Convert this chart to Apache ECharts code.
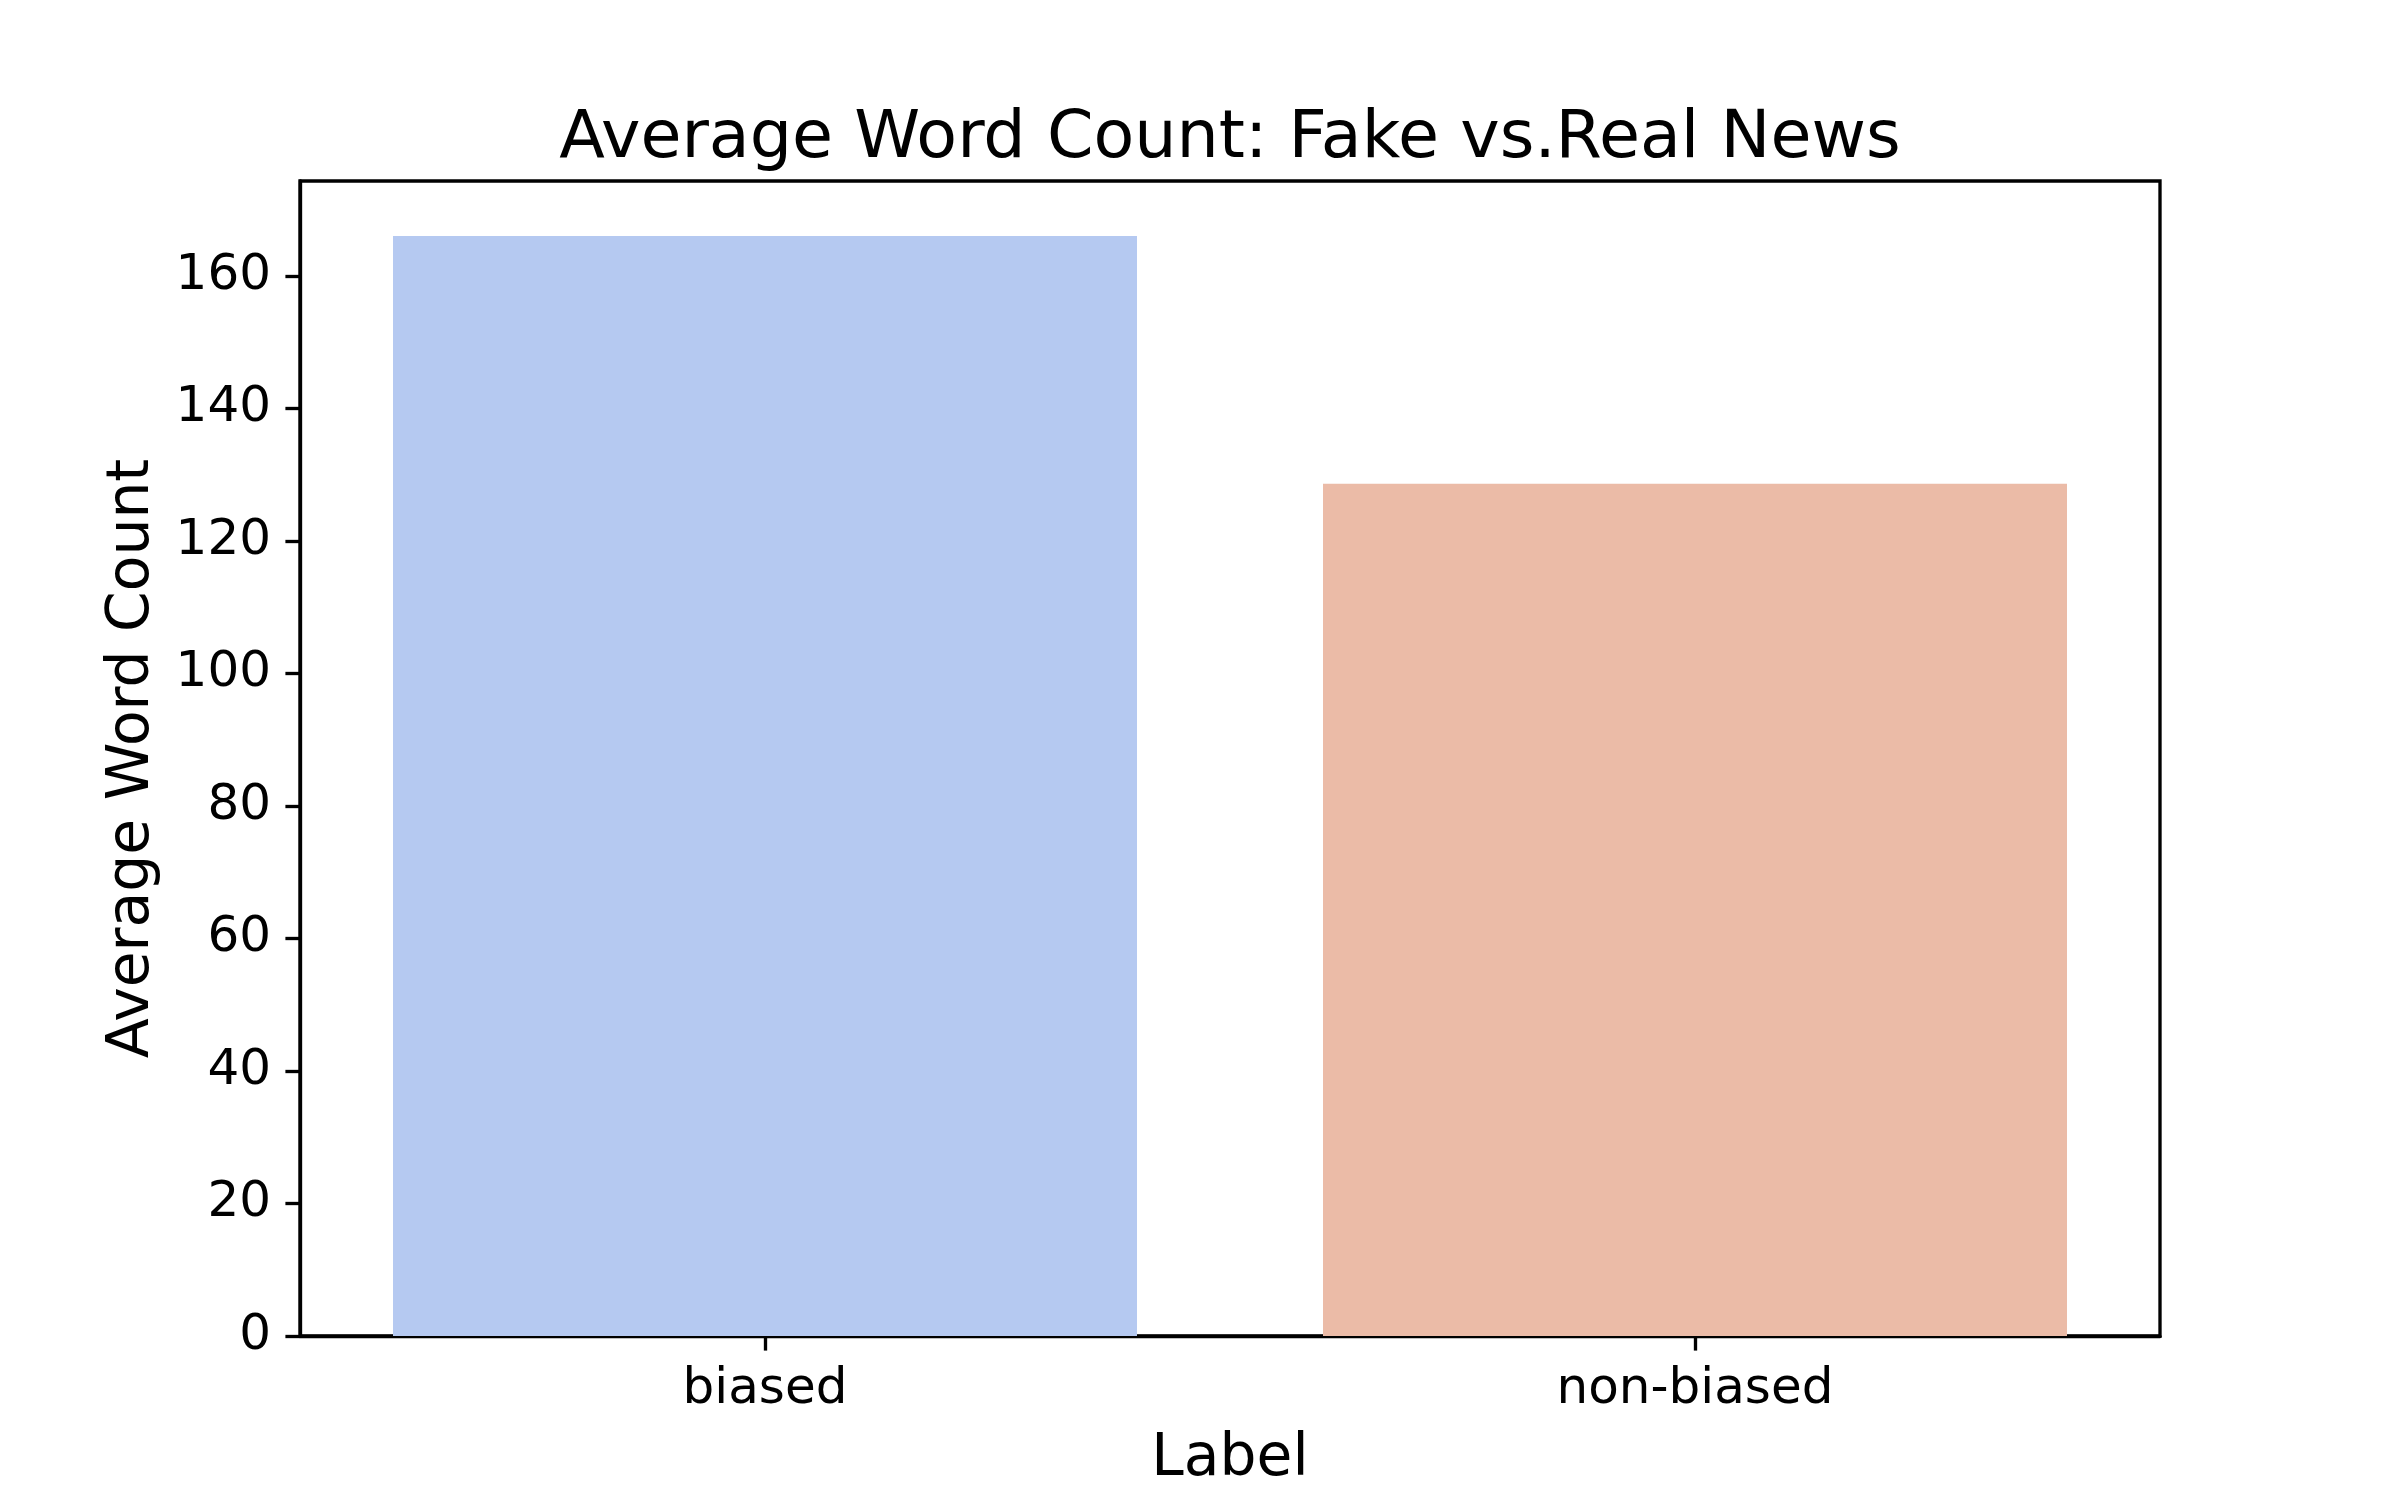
<!DOCTYPE html>
<html>
<head>
<meta charset="utf-8">
<script src="https://cdn.jsdelivr.net/npm/echarts@6/dist/echarts.min.js"></script>
<style>
html,body{margin:0;padding:0;background:#fff;}
#chart{width:2400px;height:1500px;}
</style>
</head>
<body>
<div id="chart"></div>
<script>
const categories = ['biased', 'non-biased'];
const avgWordCount = [166.0, 128.6];
const barColors = ['#b5c9f1', '#ebbba7'];
const yTicks = [0, 20, 40, 60, 80, 100, 120, 140, 160];
const yMax = 174.3;

const FONT = 'DejaVu Sans';
const LW = 3.33;

const chart = echarts.init(document.getElementById('chart'), null, {renderer: 'canvas'});
chart.setOption({
  backgroundColor: '#ffffff',
  animation: false,
  title: {
    text: 'Average Word Count: Fake vs.Real News',
    left: 1225,
    textAlign: 'center',
    top: 101,
    textStyle: {fontFamily: FONT, fontSize: 66.7, fontWeight: 'normal', color: '#000'}
  },
  grid: {
    left: 300, right: 240, top: 181, bottom: 164,
    show: true, borderColor: '#000', borderWidth: LW, backgroundColor: 'transparent',
    containLabel: false
  },
  xAxis: {
    type: 'category',
    data: categories,
    name: 'Label',
    nameLocation: 'middle',
    nameGap: 95,
    nameTextStyle: {fontFamily: FONT, fontSize: 58.3, color: '#000'},
    axisLine: {show: true, lineStyle: {color: '#000', width: LW}},
    axisTick: {show: true, alignWithLabel: true, length: 14.6, lineStyle: {color: '#000', width: LW}},
    axisLabel: {fontFamily: FONT, fontSize: 50, color: '#000', margin: 29},
    splitLine: {show: false}
  },
  yAxis: {
    type: 'value',
    min: 0,
    max: yMax,
    interval: 20,
    name: 'Average Word Count',
    nameLocation: 'middle',
    nameGap: 138,
    nameRotate: 90,
    nameTextStyle: {fontFamily: FONT, fontSize: 58.3, color: '#000'},
    axisLine: {show: true, lineStyle: {color: '#000', width: LW}},
    axisTick: {show: true, length: 14.6, customValues: yTicks, lineStyle: {color: '#000', width: LW}},
    axisLabel: {fontFamily: FONT, fontSize: 50, color: '#000', margin: 29, customValues: yTicks},
    splitLine: {show: false}
  },
  series: [{
    type: 'bar',
    barWidth: '80%',
    data: avgWordCount.map((v, i) => ({value: v, itemStyle: {color: barColors[i]}}))
  }]
});
</script>
</body>
</html>
